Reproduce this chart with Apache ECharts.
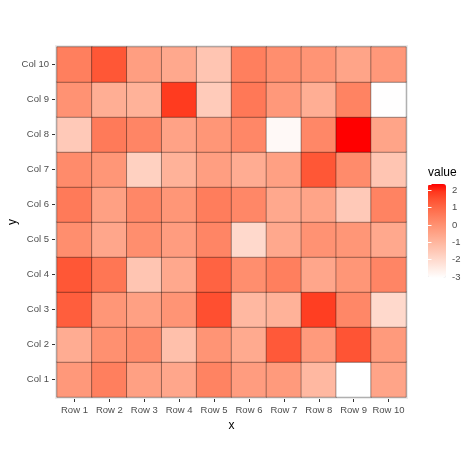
<!DOCTYPE html>
<html>
<head>
<meta charset="UTF-8">
<title>heatmap</title>
<script src="https://cdn.jsdelivr.net/npm/echarts@6/dist/echarts.min.js"></script>
<style>
  html, body { margin: 0; padding: 0; background: #fff; }
  #chart { width: 474px; height: 474px; }
</style>
</head>
<body>
<div id="chart"></div>
<script>
// categories
const xCats = ['Row 1', 'Row 2', 'Row 3', 'Row 4', 'Row 5', 'Row 6', 'Row 7', 'Row 8', 'Row 9', 'Row 10'];
const yCats = ['Col 1', 'Col 2', 'Col 3', 'Col 4', 'Col 5', 'Col 6', 'Col 7', 'Col 8', 'Col 9', 'Col 10'];

// values for each y category, Row 1 .. Row 10
const col1 = [-0.19, 0.46, -0.40, -0.57, 0.35, -0.30, -0.24, -1.05, -3.05, -0.51];
const col2 = [-0.73, 0.03, 0.14, -1.27, -0.08, -0.67, 1.30, -0.24, 1.40, -0.24];
const col3 = [1.20, -0.13, -0.40, -0.08, 1.50, -1.05, -0.89, 1.80, 0.24, -1.97];
const col4 = [1.35, 0.68, -1.43, -0.62, 1.10, 0.08, 0.46, -0.57, -0.13, 0.30];
const col5 = [0.08, -0.57, 0.08, -0.30, 0.30, -1.97, -0.62, -0.03, -0.13, -0.62];
const col6 = [0.57, -0.40, 0.24, -0.13, 0.51, 0.24, -0.62, -0.51, -1.54, 0.35];
const col7 = [0.14, -0.13, -1.75, -0.89, -0.35, -0.73, -0.40, 1.35, 0.14, -1.43];
const col8 = [-1.54, 0.57, 0.30, -0.46, -0.13, 0.24, -2.89, 0.24, 2.35, -0.51];
const col9 = [-0.03, -0.78, -0.89, 1.85, -1.59, 0.62, -0.19, -0.78, 0.35, -3.02];
const col10 = [0.46, 1.35, -0.35, -0.62, -1.43, 0.46, 0.08, -0.08, -0.51, -0.19];

const colValues = [col1, col2, col3, col4, col5, col6, col7, col8, col9, col10];

// build [x, y, value] triples
const heatData = [];
colValues.forEach((vals, yi) => {
    vals.forEach((v, xi) => heatData.push([xi, yi, v]));
});
const allVals = heatData.map(d => d[2]);
const vMin = Math.min(...allVals);
const vMax = Math.max(...allVals);

// white -> red gradient interpolated in Lab, like ggplot's scale_fill_gradient
function labToHex(L, a, b) {
    const fy = (L + 16) / 116, fx = fy + a / 500, fz = fy - b / 200;
    const f = t => t > 6 / 29 ? t * t * t : 3 * (6 / 29) * (6 / 29) * (t - 4 / 29);
    const X = 0.95047 * f(fx), Y = f(fy), Z = 1.08883 * f(fz);
    const lin = [
        3.2406 * X - 1.5372 * Y - 0.4986 * Z,
        -0.9689 * X + 1.8758 * Y + 0.0415 * Z,
        0.0557 * X - 0.2040 * Y + 1.0570 * Z
    ];
    return '#' + lin.map(c => {
        c = c <= 0.0031308 ? 12.92 * c : 1.055 * Math.pow(c, 1 / 2.4) - 0.055;
        c = Math.round(Math.max(0, Math.min(1, c)) * 255);
        return c.toString(16).padStart(2, '0');
    }).join('');
}
const rampColors = [];
for (let i = 0; i <= 12; i++) {
    const t = i / 12;
    rampColors.push(labToHex(100 + (53.24 - 100) * t, 80.09 * t, 67.20 * t));
}

const chart = echarts.init(document.getElementById('chart'));
const labelFont = 'Liberation Sans, Arial, sans-serif';

const option = {
    backgroundColor: '#ffffff',
    animation: false,
    grid: [
        { left: 57, top: 47, width: 349, height: 350, outerBoundsMode: 'none', containLabel: false },
        { left: 55, top: 45, width: 353, height: 354, show: true, backgroundColor: '#EBEBEB', borderWidth: 0, z: 0, outerBoundsMode: 'none' },
        { left: 428, top: 184, width: 18, height: 94, outerBoundsMode: 'none' }
    ],
    xAxis: [
        {
            type: 'category', data: xCats, gridIndex: 0, offset: 2,
            name: 'x', nameLocation: 'middle', nameGap: 21, nameMoveOverlap: false,
            nameTextStyle: { color: '#000', fontSize: 12, fontFamily: labelFont },
            axisLine: { show: false },
            axisTick: { show: true, alignWithLabel: true, length: 3, lineStyle: { color: '#333333' } },
            axisLabel: { color: '#4D4D4D', fontSize: 9.5, fontFamily: labelFont, margin: 6, interval: 0 },
            splitLine: { show: false }
        },
        { type: 'value', gridIndex: 1, show: false },
        { type: 'value', gridIndex: 2, show: false }
    ],
    yAxis: [
        {
            type: 'category', data: yCats, gridIndex: 0, offset: 2,
            name: 'y', nameLocation: 'middle', nameGap: 36, nameRotate: 90, nameMoveOverlap: false,
            nameTextStyle: { color: '#000', fontSize: 12, fontFamily: labelFont },
            axisLine: { show: false },
            axisTick: { show: true, alignWithLabel: true, length: 3, lineStyle: { color: '#333333' } },
            axisLabel: { color: '#4D4D4D', fontSize: 9.5, fontFamily: labelFont, margin: 6, interval: 0 },
            splitLine: { show: false }
        },
        { type: 'value', gridIndex: 1, show: false },
        {
            type: 'value', gridIndex: 2, position: 'right', min: vMin, max: vMax, splitNumber: 5,
            axisLine: { show: false },
            axisTick: { show: true, inside: true, length: 3.5, lineStyle: { color: '#ffffff', width: 1 } },
            axisLabel: {
                color: '#4D4D4D', fontSize: 9.5, fontFamily: labelFont, margin: 6,
                formatter: v => Math.abs(v - Math.round(v)) < 1e-6 ? String(Math.round(v)) : ''
            },
            splitLine: { show: false }, z: 10
        },
        {
            type: 'value', gridIndex: 2, position: 'left', min: vMin, max: vMax, splitNumber: 5,
            axisLine: { show: false },
            axisTick: { show: true, inside: true, length: 3.5, lineStyle: { color: '#ffffff', width: 1 } },
            axisLabel: { show: false },
            splitLine: { show: false }, z: 10
        }
    ],
    visualMap: {
        type: 'continuous', min: vMin, max: vMax, seriesIndex: 0,
        calculable: false, left: 428, top: 184, itemWidth: 18, itemHeight: 94,
        padding: 0, text: null, showLabel: false,
        inRange: { color: rampColors }
    },
    graphic: [{
        type: 'text', left: 428, top: 167,
        style: { text: 'value', fill: '#000', fontSize: 12, fontFamily: labelFont }
    }],
    series: [{
        type: 'heatmap', xAxisIndex: 0, yAxisIndex: 0, data: heatData,
        itemStyle: { borderColor: 'rgba(0,0,0,0.6)', borderWidth: 0.6 },
        emphasis: { disabled: true }
    }]
};
chart.setOption(option);
</script>
</body>
</html>
